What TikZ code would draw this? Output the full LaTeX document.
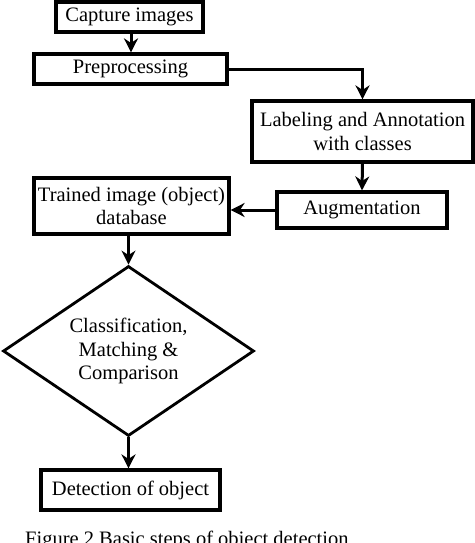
\documentclass[tikz,border=0pt]{standalone}
\usepackage{fontspec}
\setmainfont{Liberation Serif}
\usetikzlibrary{arrows.meta,shapes.geometric}
\tikzset{
  stepbox/.style={draw,line width=3.2pt,inner sep=0pt,align=center,font=\fontsize{20.5}{23.5}\selectfont},
  decide/.style={stepbox,diamond,line width=2.8pt,shape aspect=1.48,minimum width=251pt,minimum height=170pt},
  flow/.style={line width=3pt,-{Stealth[length=14pt,width=14pt]}}
}
\begin{document}
\begin{tikzpicture}[x=1pt,y=-1pt]
  \useasboundingbox (0,0) rectangle (474,543);
  \node[stepbox,minimum width=147pt,minimum height=30pt] (cap) at (129.5,17) {Capture images};
  \node[stepbox,minimum width=193pt,minimum height=30pt] (pre) at (130.5,69) {Preprocessing};
  \node[stepbox,minimum width=221pt,minimum height=61pt] (lab) at (362.5,131.5) {Labeling and Annotation\\with classes};
  \node[stepbox,minimum width=170pt,minimum height=36pt] (aug) at (362,210) {Augmentation};
  \node[stepbox,minimum width=195pt,minimum height=56pt] (db) at (131.5,206) {Trained image (object)\\database};
  \node[decide] (cmp) at (128.5,351) {Classification,\\Matching \&\\Comparison};
  \node[stepbox,minimum width=179pt,minimum height=40pt] (det) at (130.5,490) {Detection of object};
  \node[anchor=base west,inner sep=0pt,font=\fontsize{20.5}{23.5}\selectfont] (cap2) at (25,545) {Figure 2 Basic steps of object detection};
  % connectors
  \draw[flow] (cap.south -| 131,0) -- (pre.north -| 131,0);
  \draw[flow] (pre.east) -| (lab.north);
  \draw[flow] (lab.south) -- (aug.north);
  \draw[flow] (aug.west) -- (aug.west -| db.east);
  \draw[flow] (db.south -| cmp.north) -- (cmp.north);
  \draw[flow] (cmp.south) -- (cmp.south |- det.north);
\end{tikzpicture}
\end{document}
